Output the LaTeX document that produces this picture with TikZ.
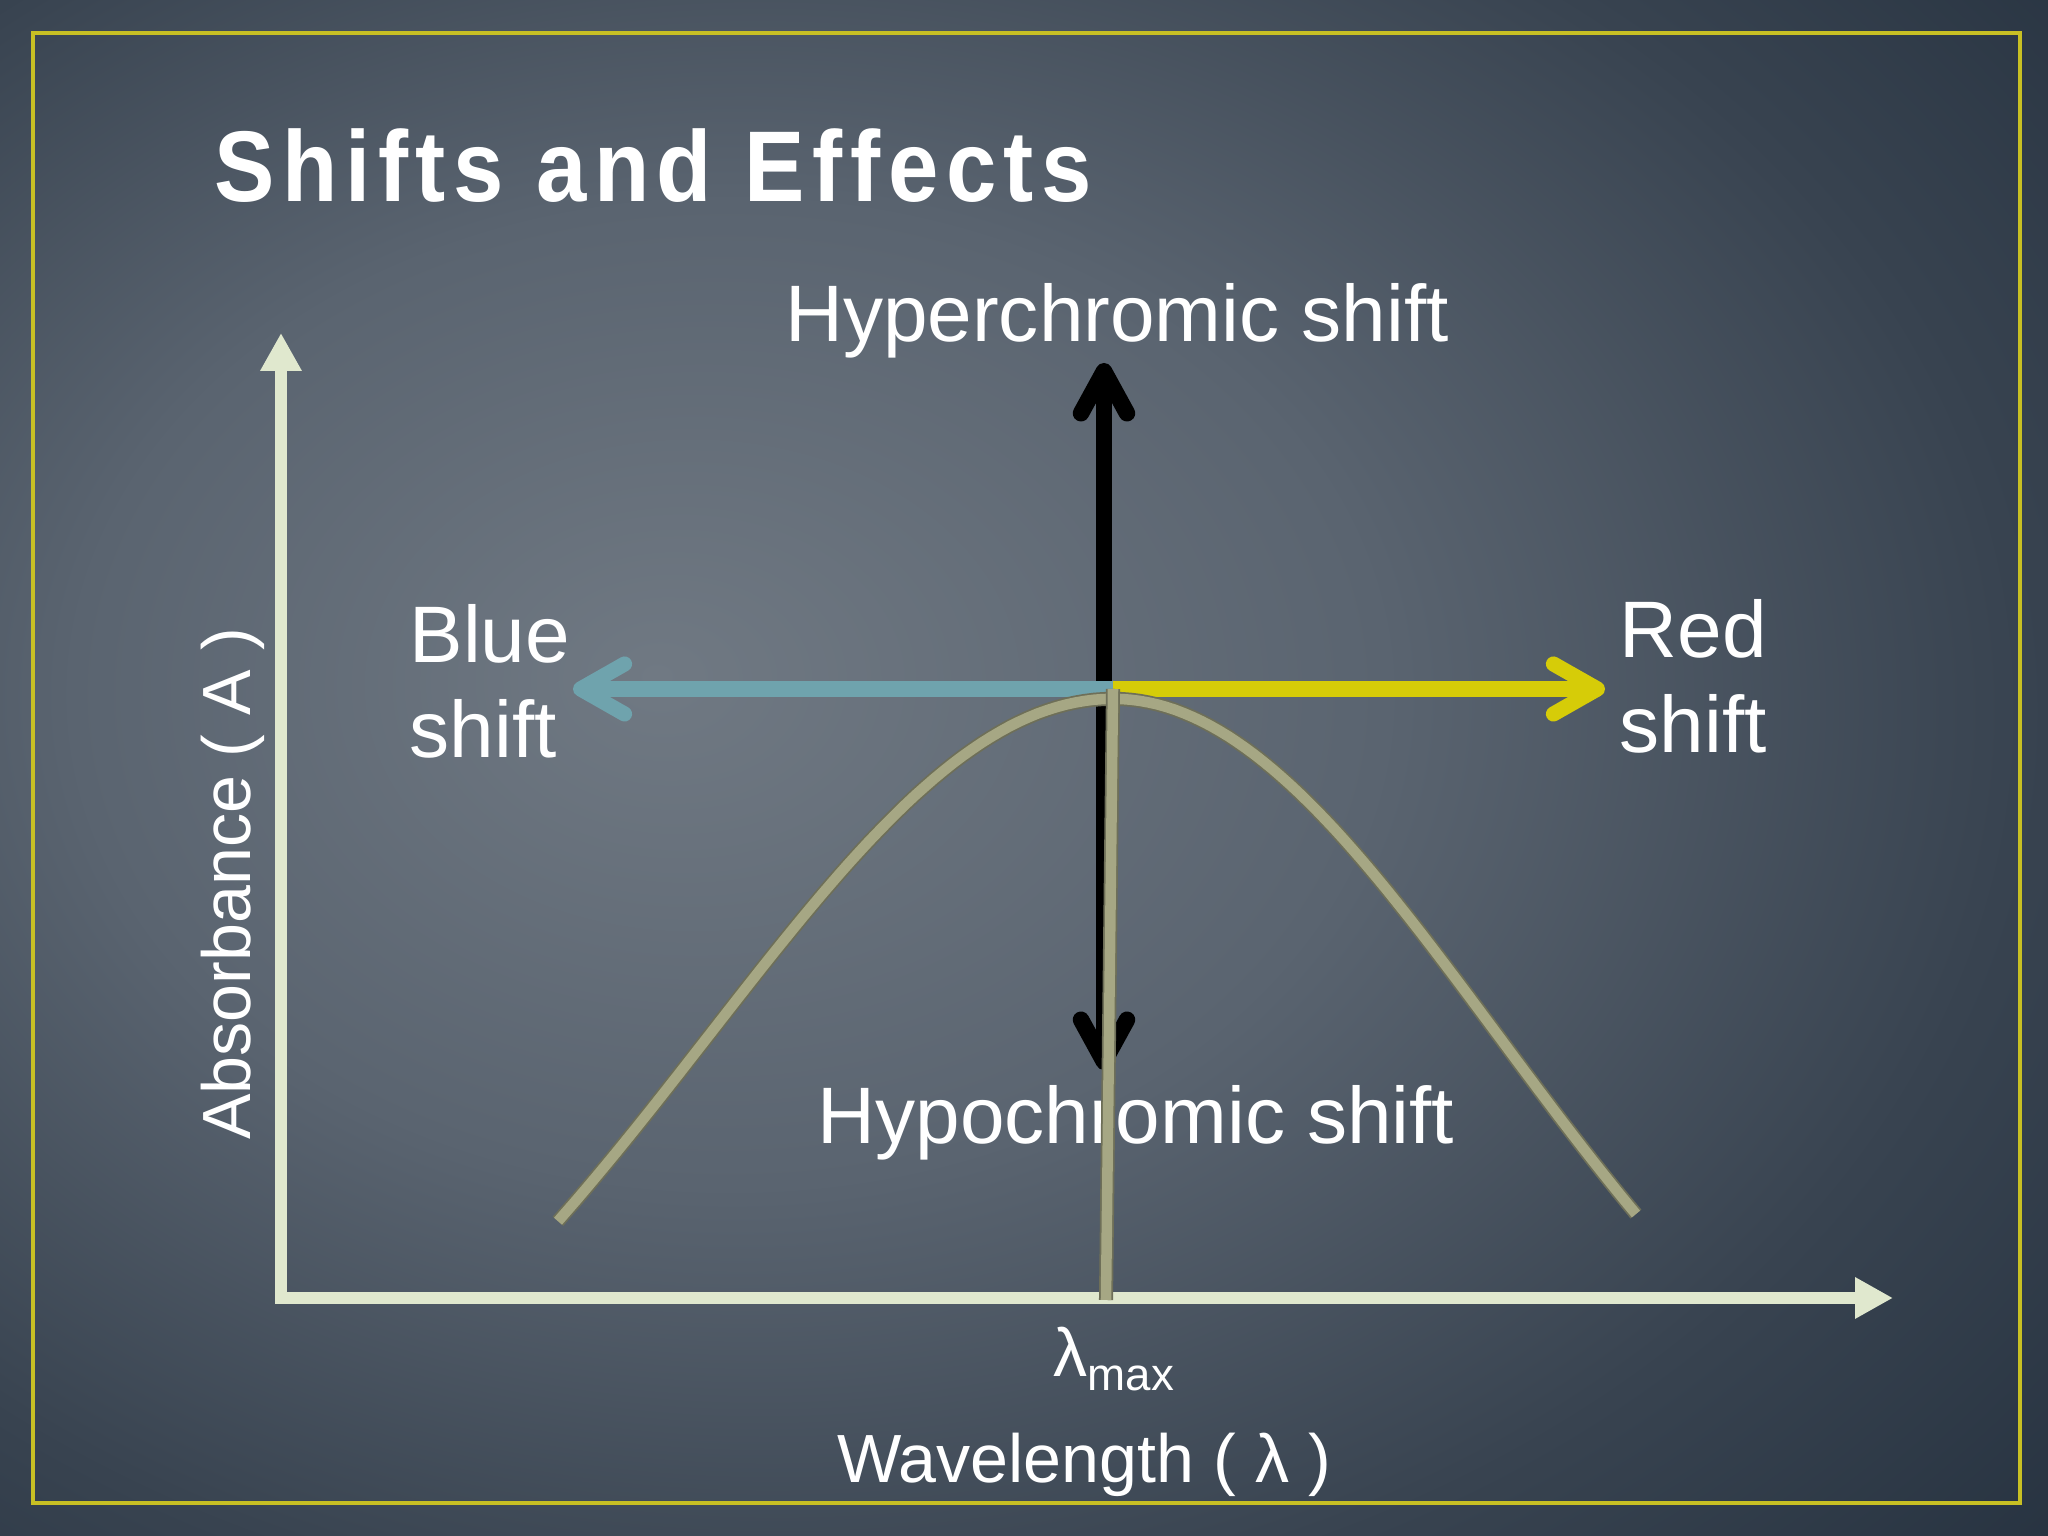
\documentclass[tikz,border=0pt]{standalone}
\usepackage{fontspec}
\setmainfont{Liberation Sans}
\newfontfamily\titlefont[FakeStretch=0.9,LetterSpace=7.5]{Liberation Sans}
\usepackage{xcolor}
\usetikzlibrary{arrows.meta}
\definecolor{bgin}{RGB}{112,121,131}
\definecolor{bgmid}{RGB}{90,100,112}
\definecolor{bglow}{RGB}{56,67,80}
\definecolor{bgout}{RGB}{36,48,62}
\definecolor{bgedge}{RGB}{26,37,51}
\definecolor{framecol}{RGB}{200,192,36}
\definecolor{axiscol}{RGB}{224,232,206}
\definecolor{khaki}{RGB}{166,167,132}
\definecolor{khakidk}{RGB}{110,111,88}
\definecolor{bluecol}{RGB}{111,163,173}
\definecolor{redcol}{RGB}{214,204,8}
\pgfdeclareradialshading{bgglow}{\pgfpoint{-9bp}{3bp}}{color(0bp)=(bgin); color(16bp)=(bgmid); color(30bp)=(bglow); color(42bp)=(bgout); color(56bp)=(bgedge); color(80bp)=(bgedge)}
\tikzset{
  frm/.style={draw=framecol,line width=1.4pt},
  axis/.style={draw=axiscol,line width=3.5pt,{Triangle[length=3.8mm,width=3.9mm]}-{Triangle[length=3.8mm,width=3.9mm]}},
  chrom/.style={draw=black,line width=4.7pt,{Straight Barb[length=4.2mm,width=4.6mm,round]}-{Straight Barb[length=4.2mm,width=4.6mm,round]}},
  shiftarr/.style={line width=4.3pt,-{Straight Barb[length=4.4mm,width=5mm,round]}},
  spec/.style={draw=khaki,line width=3pt,preaction={draw=khakidk,line width=4pt}},
  lbl/.style={text=white,inner sep=0pt,font=\fontsize{22.8}{27.2}\selectfont},
  axlbl/.style={text=white,inner sep=0pt,font=\fontsize{19.4}{23}\selectfont}
}

\begin{document}
\begin{tikzpicture}
\useasboundingbox (0,0) rectangle (20.48,15.36);
\shade[shading=bgglow] (0,0) rectangle (20.48,15.36);
\draw[frm] (0.33,0.33) rectangle (20.20,15.03);
\node[anchor=base west,inner sep=0pt,text=white,font=\titlefont\bfseries\fontsize{28.6}{34}\selectfont] (title) at (2.14,13.34) {Shifts and Effects};
% axes
\coordinate (o) at (2.81,2.38); \coordinate (ytip) at (2.81,12.03); \coordinate (xtip) at (18.93,2.38);
\draw[axis] (ytip) -- (o) -- (xtip);
% shifts
\coordinate (uptip) at (11.04,11.73); \coordinate (dntip) at (11.04,4.66);
\coordinate (top) at (11.13,8.47); \coordinate (bluetip) at (5.73,8.47); \coordinate (redtip) at (16.05,8.47);
\draw[chrom] (dntip) -- (uptip);
\draw[shiftarr,draw=bluecol] (top) -- (bluetip);
\draw[shiftarr,draw=redcol] (top) -- (redtip);
% absorption band, peak at lambda max
\draw[spec] plot[domain=-5.55:0,samples=60] ({11.13+\x},{8.37-8.55*(1-exp(-\x*\x/32.64))})
  -- plot[domain=0:5.23,samples=60] ({11.13+\x},{8.37-8.55*(1-exp(-\x*\x/29.65))});
% labels
\node[lbl,anchor=base] (hyper) at (11.17,11.94) {Hyperchromic shift};
\node[lbl,anchor=base] (hypo) at (11.36,3.92) {Hypochromic shift};
\node[lbl,align=left,anchor=base west] (blue) at (4.09,7.78) {Blue\\shift};
\node[lbl,align=left,anchor=base west] (red) at (16.19,7.83) {Red\\shift};
\node[axlbl,rotate=90,anchor=base] (absorb) at (2.51,6.52) {Absorbance ( A )};
\node[axlbl,anchor=base west] (lmax) at (10.53,1.59) {λ\raisebox{-0.14cm}{\fontsize{13}{15}\selectfont max}};
\node[axlbl,anchor=base] (wave) at (10.84,0.53) {Wavelength ( λ )};
% lambda max drop line
\coordinate (foot) at (11.06,2.36);
\draw[spec] (top) -- (foot);
\end{tikzpicture}
\end{document}
